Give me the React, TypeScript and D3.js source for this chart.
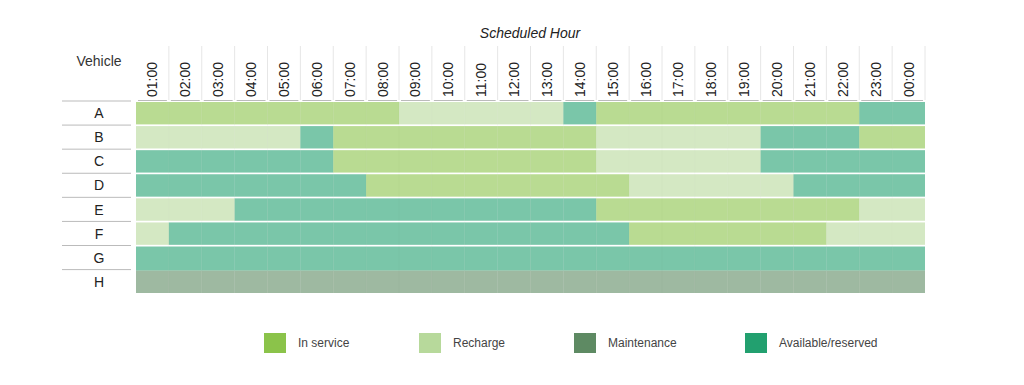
import React from "react";
import * as d3 from "d3";

const vehicles = ["A", "B", "C", "D", "E", "F", "G", "H"];
const hours = [
  "01:00", "02:00", "03:00", "04:00", "05:00", "06:00", "07:00", "08:00",
  "09:00", "10:00", "11:00", "12:00", "13:00", "14:00", "15:00", "16:00",
  "17:00", "18:00", "19:00", "20:00", "21:00", "22:00", "23:00", "00:00",
];
const statuses = ["In service", "Recharge", "Maintenance", "Available/reserved"];
const statusColors = ["#8bc34a", "#b7d99b", "#5e8a63", "#22a06f"];

// runs of [status, number of hours], from 01:00 onwards
const scheduleA: [string, number][] = [["In service", 8], ["Recharge", 5], ["Available/reserved", 1], ["In service", 8], ["Available/reserved", 2]];
const scheduleB: [string, number][] = [["Recharge", 5], ["Available/reserved", 1], ["In service", 8], ["Recharge", 5], ["Available/reserved", 3], ["In service", 2]];
const scheduleC: [string, number][] = [["Available/reserved", 6], ["In service", 8], ["Recharge", 5], ["Available/reserved", 5]];
const scheduleD: [string, number][] = [["Available/reserved", 7], ["In service", 8], ["Recharge", 5], ["Available/reserved", 4]];
const scheduleE: [string, number][] = [["Recharge", 3], ["Available/reserved", 11], ["In service", 8], ["Recharge", 2]];
const scheduleF: [string, number][] = [["Recharge", 1], ["Available/reserved", 14], ["In service", 6], ["Recharge", 3]];
const scheduleG: [string, number][] = [["Available/reserved", 24]];
const scheduleH: [string, number][] = [["Maintenance", 24]];
const schedules = [scheduleA, scheduleB, scheduleC, scheduleD, scheduleE, scheduleF, scheduleG, scheduleH];

const FONT = "'Liberation Sans', Arial, sans-serif";

const App: React.FC = () => {
  const width = 1024;
  const height = 385;

  const x = d3.scaleBand<string>().domain(hours).range([136, 925]).padding(0);
  const y = d3.scaleBand<string>().domain(vehicles).range([102, 293]).paddingInner(0.07);
  const color = d3.scaleOrdinal<string, string>().domain(statuses).range(statusColors);

  const cells: { v: string; h: string; s: string }[] = [];
  schedules.forEach((runs, vi) => {
    let i = 0;
    runs.forEach(([s, n]) => {
      for (let k = 0; k < n; k++) {
        cells.push({ v: vehicles[vi], h: hours[i], s });
        i++;
      }
    });
  });

  const bw = x.bandwidth();
  // legend flows left to right: swatch, label, gap
  const legendStart = 264;
  const legendItemWidths = [155, 155, 171, 0];
  const legendX = legendItemWidths.map((_, i) =>
    legendStart + d3.sum(legendItemWidths.slice(0, i))
  );

  return (
    <svg
      width={width}
      height={height}
      style={{ position: "absolute", left: 0, top: 0, background: "#fff" }}
      fontFamily={FONT}
    >
      <text x={530} y={38} textAnchor="middle" fontSize={14} fontStyle="italic" fill="#222">
        Scheduled Hour
      </text>
      <text x={99} y={66} textAnchor="middle" fontSize={14} fill="#333">
        Vehicle
      </text>

      {/* header column separators */}
      {hours.map((h) => (
        <line
          key={"sep" + h}
          x1={(x(h) ?? 0) + bw}
          x2={(x(h) ?? 0) + bw}
          y1={46}
          y2={100}
          stroke="#e6e6e6"
        />
      ))}
      {hours.map((h) => (
        <line
          key={"hl" + h}
          x1={(x(h) ?? 0) + 2}
          x2={(x(h) ?? 0) + bw - 2}
          y1={100.5}
          y2={100.5}
          stroke="#bbb"
        />
      ))}
      {hours.map((h) => (
        <text
          key={"t" + h}
          transform={`translate(${(x(h) ?? 0) + bw / 2 + 5},97) rotate(-90)`}
          fontSize={14}
          fill="#222"
        >
          {h}
        </text>
      ))}

      {/* row labels */}
      {vehicles.map((v) => (
        <g key={"lab" + v}>
          <line x1={62} x2={131} y1={(y(v) ?? 0) - 1} y2={(y(v) ?? 0) - 1} stroke="#bbb" />
          <text
            x={99}
            y={(y(v) ?? 0) + y.bandwidth() / 2 + 5}
            textAnchor="middle"
            fontSize={14}
            fill="#222"
          >
            {v}
          </text>
        </g>
      ))}

      {/* cells */}
      {cells.map((c, i) => (
        <rect
          key={"c" + i}
          x={x(c.h)}
          y={y(c.v)}
          width={bw}
          height={y.bandwidth() + (c.v === "G" ? y.step() - y.bandwidth() : 0)}
          fill={color(c.s)}
          fillOpacity={0.6}
        />
      ))}
      {hours.slice(1).map((h) => (
        <line
          key={"g" + h}
          x1={x(h)}
          x2={x(h)}
          y1={102}
          y2={293}
          stroke="#000"
          strokeOpacity={0.02}
        />
      ))}

      {/* legend */}
      {statuses.map((s, i) => (
        <g key={"leg" + s}>
          <rect x={legendX[i]} y={333} width={22} height={20} fill={color(s)} />
          <text x={legendX[i] + 34} y={347} fontSize={12} fill="#444">
            {s}
          </text>
        </g>
      ))}
    </svg>
  );
};

export default App;
